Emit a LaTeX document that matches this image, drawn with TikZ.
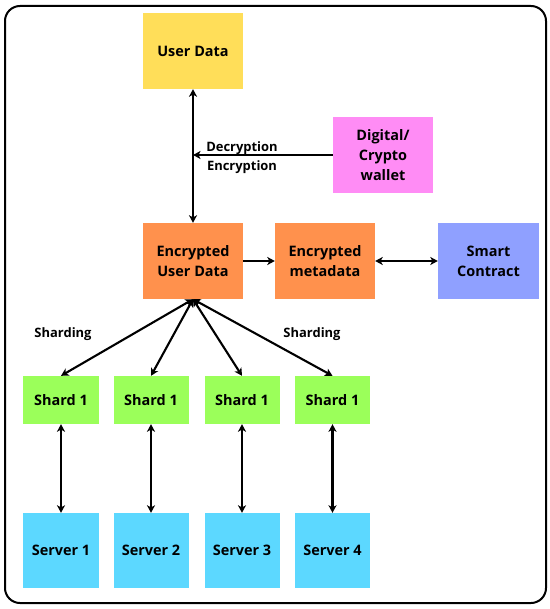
\documentclass[tikz,border=0pt]{standalone}
\usepackage{fontspec}
\setmainfont{Open Sans}
\usetikzlibrary{arrows.meta}
\definecolor{cyellow}{HTML}{FFDE59}
\definecolor{cpink}{HTML}{FF8CF5}
\definecolor{corange}{HTML}{FF914D}
\definecolor{cblue}{HTML}{8FA0FF}
\definecolor{cgreen}{HTML}{9BFF5A}
\definecolor{ccyan}{HTML}{5CD8FF}
\begin{document}
\begin{tikzpicture}[x=1bp,y=-1bp,
  box/.style={inner sep=0pt, align=center, minimum width=100bp, minimum height=76bp,
    font=\bfseries\fontsize{14.5}{20}\selectfont},
  shardbox/.style={box, fill=cgreen, minimum width=75bp, minimum height=48bp},
  serverbox/.style={box, fill=ccyan, minimum width=75bp, minimum height=75bp},
  lbl/.style={inner sep=0pt, font=\bfseries\fontsize{13}{16}\selectfont},
  conn/.style={line width=2.1bp, draw=black},
  tip/.tip={Stealth[length=7.5bp,width=8bp,inset=2bp]}
]
\useasboundingbox (0,0) rectangle (550,609);
\draw[line width=2bp, rounded corners=15bp] (5,6) rectangle (546,603);

\node[box, fill=cyellow] (ud) at (193,51) {User Data};
\node[box, fill=cpink] (wal) at (383,155) {Digital/\\Crypto\\wallet};
\node[box, fill=corange] (eud) at (193,261) {Encrypted\\User Data};
\node[box, fill=corange] (em) at (325,261) {Encrypted\\metadata};
\node[box, fill=cblue, minimum width=101bp] (sc) at (488.5,261) {Smart\\Contract};

\node[shardbox] (sh1) at (61,400) {Shard 1};
\node[shardbox] (sh2) at (151,400) {Shard 1};
\node[shardbox] (sh3) at (242,400) {Shard 1};
\node[shardbox] (sh4) at (332.5,400) {Shard 1};

\node[serverbox] (sv1) at (61,550.5) {Server 1};
\node[serverbox] (sv2) at (151,550.5) {Server 2};
\node[serverbox] (sv3) at (242,550.5) {Server 3};
\node[serverbox] (sv4) at (332.5,550.5) {Server 4};

\coordinate (j) at (eud.north |- wal.west);

\draw[conn, tip-tip] (ud.south) -- (eud.north);
\draw[conn, -tip] (wal.west) -- (j);
\draw[conn, -tip] (eud.east) -- (em.west);
\draw[conn, tip-tip] (em.east) -- (sc.west);
\foreach \s in {sh1,sh2,sh3,sh4}{
  \draw[conn, tip-tip] (eud.south) -- (\s.north);
}
\foreach \a/\b in {sh1/sv1,sh2/sv2,sh3/sv3,sh4/sv4}{
  \draw[conn, tip-tip] (\a.south) -- (\b.north);
}

\node[lbl] (dec) at (242,148) {Decryption};
\node[lbl] (enc) at (242,167) {Encryption};
\node[lbl] (shl) at (63,334) {Sharding};
\node[lbl] (shr) at (312,334) {Sharding};
\end{tikzpicture}
\end{document}
